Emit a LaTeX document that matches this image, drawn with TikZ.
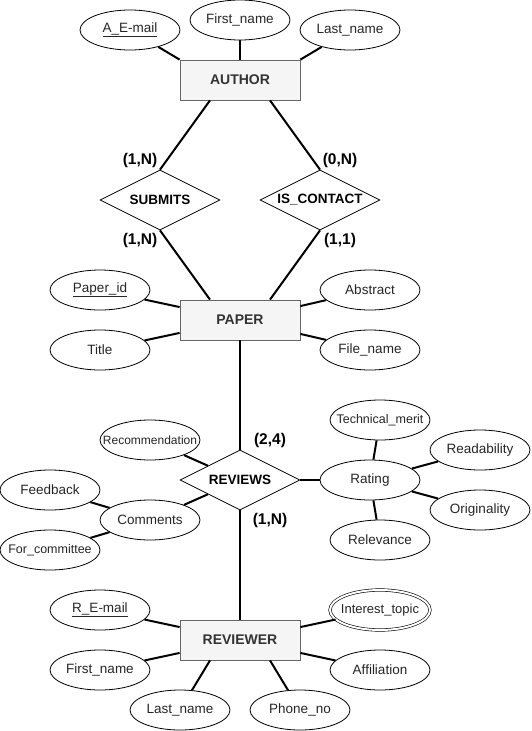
\documentclass[tikz,border=0pt]{standalone}
\usepackage{fontspec}
\setmainfont{Liberation Sans}
\usepackage{tikz}
\usetikzlibrary{shapes.geometric}
\definecolor{entityFill}{HTML}{F5F5F5}
\definecolor{entityDraw}{HTML}{666666}
\definecolor{entityText}{HTML}{333333}

\begin{document}
\begin{tikzpicture}[x=1pt, y=-1pt,
	entity/.style={draw=entityDraw, fill=entityFill, line width=0.8pt, minimum width=120pt, minimum height=40pt, inner sep=0pt, text=entityText, font=\fontsize{14}{16}\selectfont\bfseries},
	attr/.style={draw, ellipse, fill=white, line width=0.8pt, minimum width=100pt, minimum height=40pt, inner xsep=-14pt, inner ysep=0pt, text=black!85, font=\fontsize{13.5}{15}\selectfont},
	rel/.style={draw, diamond, aspect=2, fill=white, line width=0.8pt, minimum width=120pt, minimum height=60pt, inner sep=0pt, font=\fontsize{13.5}{15}\selectfont\bfseries},
	card/.style={font=\fontsize{15.5}{17}\selectfont\bfseries},
	link/.style={line width=2pt}]
	\useasboundingbox (0,0) rectangle (531,731);

	% entities and relationships
	\node[entity] (author) at (240,80) {AUTHOR};
	\node[entity] (paper) at (240,320) {PAPER};
	\node[entity] (reviewer) at (240,640) {REVIEWER};
	\node[rel] (submits) at (160,200) {SUBMITS};
	\node[rel] (isContact) at (320,200) {IS\_CONTACT};
	\node[rel] (reviews) at (240,480) {REVIEWS};

	% attributes
	\node[attr] (aEmail) at (130,30) {\underline{A\_E-mail}};
	\node[attr] (authFirst) at (240,20) {First\_name};
	\node[attr] (authLast) at (350,30) {Last\_name};
	\node[attr] (paperId) at (100,290) {\underline{Paper\_id}};
	\node[attr] (title) at (100,350) {Title};
	\node[attr] (abstract) at (370,290) {Abstract};
	\node[attr] (fileName) at (370,350) {File\_name};
	\node[attr, font=\fontsize{12}{14}\selectfont] (recommendation) at (150,440) {Recommendation};
	\node[attr] (comments) at (150,520) {Comments};
	\node[attr] (feedback) at (50,490) {Feedback};
	\node[attr, font=\fontsize{12.5}{14}\selectfont] (forCommittee) at (50,550) {For\_committee};
	\node[attr] (rating) at (370,480) {Rating};
	\node[attr, font=\fontsize{12.5}{14}\selectfont] (techMerit) at (380,420) {Technical\_merit};
	\node[attr] (readability) at (480,450) {Readability};
	\node[attr] (originality) at (480,510) {Originality};
	\node[attr] (relevance) at (380,540) {Relevance};
	\node[attr] (rEmail) at (100,610) {\underline{R\_E-mail}};
	\node[attr] (revFirst) at (100,670) {First\_name};
	\node[attr] (revLast) at (180,710) {Last\_name};
	\node[attr] (phoneNo) at (300,710) {Phone\_no};
	\node[attr, double, double distance=2pt, line width=0.6pt, font=\fontsize{13}{15}\selectfont] (interestTopic) at (380,610) {Interest\_topic};
	\node[attr] (affiliation) at (380,670) {Affiliation};

	% cardinalities
	\node[card] (cardSubA) at (140,160) {(1,N)};
	\node[card] (cardConA) at (340,160) {(0,N)};
	\node[card] (cardSubP) at (140,240) {(1,N)};
	\node[card] (cardConP) at (340,240) {(1,1)};
	\node[card] (cardRevP) at (270,440) {(2,4)};
	\node[card] (cardRevR) at (270,520) {(1,N)};

	% connectors
	\draw[link] (aEmail) -- (author.north west);
	\draw[link] (authFirst) -- (author);
	\draw[link] (authLast) -- (author.north east);
	\draw[link] ([xshift=-30pt]author.south) -- (submits.north);
	\draw[link] ([xshift=30pt]author.south) -- (isContact.north);
	\draw[link] (submits.south) -- ([xshift=-30pt]paper.north);
	\draw[link] (isContact.south) -- ([xshift=30pt]paper.north);
	\foreach \a in {paperId, title, abstract, fileName}
		\draw[link] (\a) -- (paper);
	\draw[link] (paper) -- (reviews);
	\draw[link] (reviews) -- (reviewer);
	\draw[link] (recommendation) -- (reviews);
	\draw[link] (comments) -- (reviews);
	\draw[link] (feedback) -- (comments);
	\draw[link] (forCommittee) -- (comments);
	\draw[link] (reviews) -- (rating);
	\foreach \a in {techMerit, readability, originality, relevance}
		\draw[link] (\a) -- (rating);
	\foreach \a in {rEmail, revFirst, interestTopic, affiliation}
		\draw[link] (\a) -- (reviewer);
	\draw[link] (revLast) -- ([xshift=-30pt]reviewer.south);
	\draw[link] (phoneNo) -- ([xshift=30pt]reviewer.south);

\end{tikzpicture}
\end{document}
